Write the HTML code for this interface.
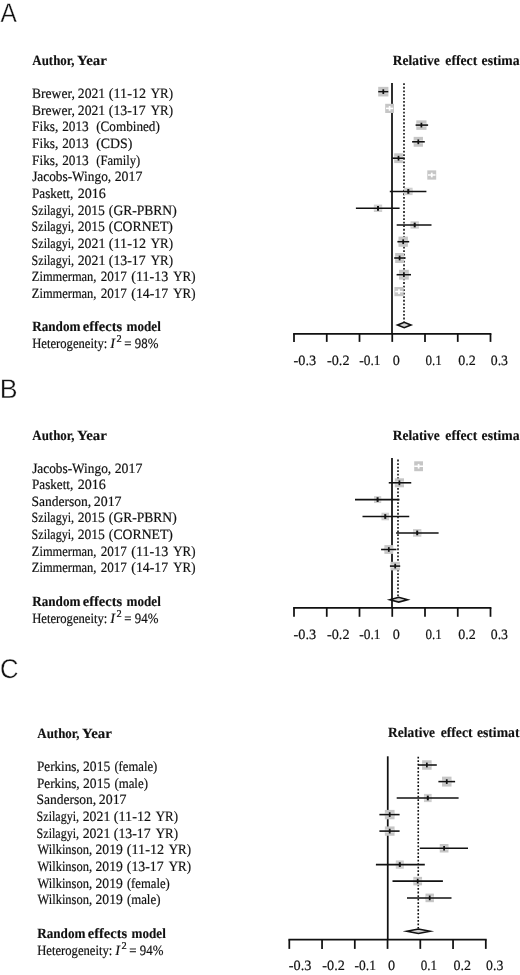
<!DOCTYPE html>
<html><head><meta charset="utf-8"><title>Forest plots</title>
<style>
html,body{margin:0;padding:0;background:#fff;}
svg{display:block;text-rendering:geometricPrecision;}
.t{font-family:"Liberation Serif",serif;font-size:14.2px;fill:#111;stroke:#111;stroke-width:0.2px;}
.b{font-family:"Liberation Serif",serif;font-size:14.2px;font-weight:bold;fill:#111;stroke:#111;stroke-width:0.15px;}
.L{font-family:"Liberation Sans",sans-serif;font-size:27.0px;fill:#111;}
</style></head><body>
<svg width="520" height="975" viewBox="0 0 520 975">
<rect width="520" height="975" fill="#fff"/>
<line x1="392" y1="83" x2="392" y2="333.8" stroke="#111" stroke-width="1.75"/>
<line x1="404" y1="83.3" x2="404" y2="321.80" stroke="#111" stroke-width="1.6" stroke-dasharray="1.8 1.75"/>
<line x1="293.12" y1="333.8" x2="491.38" y2="333.8" stroke="#111" stroke-width="1.75"/>
<line x1="294.00" y1="333.8" x2="294.00" y2="341.90" stroke="#111" stroke-width="1.75"/>
<line x1="326.75" y1="333.8" x2="326.75" y2="341.90" stroke="#111" stroke-width="1.75"/>
<line x1="359.50" y1="333.8" x2="359.50" y2="341.90" stroke="#111" stroke-width="1.75"/>
<line x1="392.25" y1="333.8" x2="392.25" y2="341.90" stroke="#111" stroke-width="1.75"/>
<line x1="425.00" y1="333.8" x2="425.00" y2="341.90" stroke="#111" stroke-width="1.75"/>
<line x1="457.75" y1="333.8" x2="457.75" y2="341.90" stroke="#111" stroke-width="1.75"/>
<line x1="490.50" y1="333.8" x2="490.50" y2="341.90" stroke="#111" stroke-width="1.75"/>
<rect x="378.20" y="86.85" width="10.2" height="9.6" fill="#c6c6c6"/>
<line x1="378.25" y1="91.65" x2="388.30" y2="91.65" stroke="#dedede" stroke-width="3.6"/>
<line x1="378.25" y1="91.65" x2="388.30" y2="91.65" stroke="#111" stroke-width="1.55"/>
<line x1="383.30" y1="89.30" x2="383.30" y2="94.00" stroke="#111" stroke-width="1.75"/>
<rect x="385.20" y="103.80" width="8.8" height="9.2" fill="#c6c6c6"/>
<line x1="386.00" y1="108.40" x2="393.20" y2="108.40" stroke="#fff" stroke-width="1.55"/>
<line x1="389.60" y1="106.05" x2="389.60" y2="110.75" stroke="#fff" stroke-width="1.75"/>
<rect x="416.30" y="120.35" width="10.2" height="9.5" fill="#c6c6c6"/>
<line x1="416.30" y1="125.10" x2="426.50" y2="125.10" stroke="#dedede" stroke-width="3.6"/>
<line x1="415.60" y1="125.10" x2="428.10" y2="125.10" stroke="#111" stroke-width="1.55"/>
<line x1="421.40" y1="122.75" x2="421.40" y2="127.45" stroke="#111" stroke-width="1.75"/>
<rect x="413.65" y="136.85" width="9.3" height="9.9" fill="#c6c6c6"/>
<line x1="413.65" y1="141.80" x2="422.95" y2="141.80" stroke="#dedede" stroke-width="3.6"/>
<line x1="412.10" y1="141.80" x2="424.80" y2="141.80" stroke="#111" stroke-width="1.55"/>
<line x1="418.30" y1="139.45" x2="418.30" y2="144.15" stroke="#111" stroke-width="1.75"/>
<rect x="394.20" y="153.30" width="8.6" height="9.8" fill="#c6c6c6"/>
<line x1="394.20" y1="158.20" x2="402.80" y2="158.20" stroke="#dedede" stroke-width="3.6"/>
<line x1="392.30" y1="158.20" x2="404.60" y2="158.20" stroke="#111" stroke-width="1.55"/>
<line x1="398.50" y1="155.85" x2="398.50" y2="160.55" stroke="#111" stroke-width="1.75"/>
<rect x="427.30" y="170.35" width="8.9" height="9.3" fill="#c6c6c6"/>
<line x1="428.00" y1="175.00" x2="435.50" y2="175.00" stroke="#fff" stroke-width="1.55"/>
<line x1="431.75" y1="172.65" x2="431.75" y2="177.35" stroke="#fff" stroke-width="1.75"/>
<rect x="404.00" y="187.70" width="8.6" height="7.4" fill="#cfcfcf"/>
<line x1="404.00" y1="191.40" x2="412.60" y2="191.40" stroke="#dedede" stroke-width="3.6"/>
<line x1="389.80" y1="191.40" x2="426.40" y2="191.40" stroke="#111" stroke-width="1.55"/>
<line x1="408.30" y1="189.05" x2="408.30" y2="193.75" stroke="#111" stroke-width="2.0"/>
<rect x="373.85" y="204.60" width="8.3" height="7.4" fill="#cfcfcf"/>
<line x1="373.85" y1="208.30" x2="382.15" y2="208.30" stroke="#dedede" stroke-width="3.6"/>
<line x1="355.90" y1="208.30" x2="399.60" y2="208.30" stroke="#111" stroke-width="1.55"/>
<line x1="378.00" y1="205.95" x2="378.00" y2="210.65" stroke="#111" stroke-width="2.0"/>
<rect x="410.50" y="221.30" width="8.4" height="7.4" fill="#cfcfcf"/>
<line x1="410.50" y1="225.00" x2="418.90" y2="225.00" stroke="#dedede" stroke-width="3.6"/>
<line x1="396.70" y1="225.00" x2="431.50" y2="225.00" stroke="#111" stroke-width="1.55"/>
<line x1="414.70" y1="222.65" x2="414.70" y2="227.35" stroke="#111" stroke-width="2.0"/>
<rect x="398.50" y="236.60" width="9.4" height="10.2" fill="#c6c6c6"/>
<line x1="398.50" y1="241.70" x2="407.90" y2="241.70" stroke="#dedede" stroke-width="3.6"/>
<line x1="397.40" y1="241.70" x2="409.20" y2="241.70" stroke="#111" stroke-width="1.55"/>
<line x1="403.20" y1="239.35" x2="403.20" y2="244.05" stroke="#111" stroke-width="1.75"/>
<rect x="395.15" y="253.00" width="8.9" height="10.0" fill="#c6c6c6"/>
<line x1="395.15" y1="258.00" x2="404.05" y2="258.00" stroke="#dedede" stroke-width="3.6"/>
<line x1="394.20" y1="258.00" x2="405.60" y2="258.00" stroke="#111" stroke-width="1.55"/>
<line x1="399.60" y1="255.65" x2="399.60" y2="260.35" stroke="#111" stroke-width="1.75"/>
<rect x="399.00" y="269.80" width="9.8" height="9.8" fill="#c6c6c6"/>
<line x1="399.00" y1="274.70" x2="408.80" y2="274.70" stroke="#dedede" stroke-width="3.6"/>
<line x1="396.60" y1="274.70" x2="411.00" y2="274.70" stroke="#111" stroke-width="1.55"/>
<line x1="403.90" y1="272.35" x2="403.90" y2="277.05" stroke="#111" stroke-width="1.75"/>
<rect x="394.40" y="287.00" width="9.2" height="9.2" fill="#c6c6c6"/>
<line x1="395.20" y1="291.60" x2="402.80" y2="291.60" stroke="#fff" stroke-width="1.55"/>
<line x1="399.00" y1="289.25" x2="399.00" y2="293.95" stroke="#fff" stroke-width="1.75"/>
<polygon points="397.54,325.0 404.25,322.36 410.96,325.0 404.25,327.64" fill="#d2d2d2" stroke="#111" stroke-width="1.6" stroke-linejoin="miter" stroke-miterlimit="12"/>
<line x1="392" y1="458" x2="392" y2="607.8" stroke="#111" stroke-width="1.75"/>
<line x1="398" y1="459.6" x2="398" y2="596.80" stroke="#111" stroke-width="1.6" stroke-dasharray="1.8 1.75"/>
<line x1="293.12" y1="607.8" x2="491.38" y2="607.8" stroke="#111" stroke-width="1.75"/>
<line x1="294.00" y1="607.8" x2="294.00" y2="616.80" stroke="#111" stroke-width="1.75"/>
<line x1="326.75" y1="607.8" x2="326.75" y2="616.80" stroke="#111" stroke-width="1.75"/>
<line x1="359.50" y1="607.8" x2="359.50" y2="616.80" stroke="#111" stroke-width="1.75"/>
<line x1="392.25" y1="607.8" x2="392.25" y2="616.80" stroke="#111" stroke-width="1.75"/>
<line x1="425.00" y1="607.8" x2="425.00" y2="616.80" stroke="#111" stroke-width="1.75"/>
<line x1="457.75" y1="607.8" x2="457.75" y2="616.80" stroke="#111" stroke-width="1.75"/>
<line x1="490.50" y1="607.8" x2="490.50" y2="616.80" stroke="#111" stroke-width="1.75"/>
<rect x="414.20" y="461.30" width="8.8" height="9.9" fill="#c6c6c6"/>
<line x1="414.20" y1="466.25" x2="423.00" y2="466.25" stroke="#fff" stroke-width="1.55"/>
<line x1="418.60" y1="463.90" x2="418.60" y2="468.60" stroke="#fff" stroke-width="1.75"/>
<rect x="394.80" y="478.30" width="9.2" height="9.0" fill="#c6c6c6"/>
<line x1="394.80" y1="482.80" x2="404.00" y2="482.80" stroke="#dedede" stroke-width="3.6"/>
<line x1="388.75" y1="482.80" x2="411.25" y2="482.80" stroke="#111" stroke-width="1.55"/>
<line x1="399.40" y1="480.45" x2="399.40" y2="485.15" stroke="#111" stroke-width="1.75"/>
<rect x="374.00" y="496.15" width="7.2" height="6.9" fill="#cfcfcf"/>
<line x1="374.00" y1="499.60" x2="381.20" y2="499.60" stroke="#dedede" stroke-width="3.6"/>
<line x1="355.00" y1="499.60" x2="399.50" y2="499.60" stroke="#111" stroke-width="1.55"/>
<line x1="377.60" y1="497.25" x2="377.60" y2="501.95" stroke="#111" stroke-width="2.0"/>
<rect x="381.50" y="512.70" width="7.5" height="7.6" fill="#cfcfcf"/>
<line x1="381.50" y1="516.50" x2="389.00" y2="516.50" stroke="#dedede" stroke-width="3.6"/>
<line x1="362.50" y1="516.50" x2="409.25" y2="516.50" stroke="#111" stroke-width="1.55"/>
<line x1="385.25" y1="514.15" x2="385.25" y2="518.85" stroke="#111" stroke-width="2.0"/>
<rect x="413.05" y="529.05" width="8.3" height="7.7" fill="#cfcfcf"/>
<line x1="413.05" y1="532.90" x2="421.35" y2="532.90" stroke="#dedede" stroke-width="3.6"/>
<line x1="396.10" y1="532.90" x2="438.60" y2="532.90" stroke="#111" stroke-width="1.55"/>
<line x1="417.20" y1="530.55" x2="417.20" y2="535.25" stroke="#111" stroke-width="2.0"/>
<rect x="384.40" y="545.10" width="8.8" height="8.8" fill="#c6c6c6"/>
<line x1="384.40" y1="549.50" x2="393.20" y2="549.50" stroke="#dedede" stroke-width="3.6"/>
<line x1="381.10" y1="549.50" x2="396.40" y2="549.50" stroke="#111" stroke-width="1.55"/>
<line x1="388.80" y1="547.15" x2="388.80" y2="551.85" stroke="#111" stroke-width="1.75"/>
<rect x="390.50" y="561.80" width="9.4" height="8.6" fill="#c6c6c6"/>
<line x1="390.50" y1="566.10" x2="399.90" y2="566.10" stroke="#dedede" stroke-width="3.6"/>
<line x1="389.90" y1="566.10" x2="400.20" y2="566.10" stroke="#111" stroke-width="1.55"/>
<line x1="395.20" y1="563.75" x2="395.20" y2="568.45" stroke="#111" stroke-width="1.75"/>
<polygon points="389.88,599.7 398.7,597.33 407.52,599.7 398.7,602.07" fill="#d2d2d2" stroke="#111" stroke-width="1.6" stroke-linejoin="miter" stroke-miterlimit="12"/>
<line x1="387.75" y1="756.3" x2="387.75" y2="939.6" stroke="#111" stroke-width="1.75"/>
<line x1="418.25" y1="756.7" x2="418.25" y2="928.45" stroke="#111" stroke-width="1.6" stroke-dasharray="1.8 1.75"/>
<line x1="288.43" y1="939.6" x2="486.68" y2="939.6" stroke="#111" stroke-width="1.75"/>
<line x1="289.30" y1="939.6" x2="289.30" y2="948.90" stroke="#111" stroke-width="1.75"/>
<line x1="322.05" y1="939.6" x2="322.05" y2="948.90" stroke="#111" stroke-width="1.75"/>
<line x1="354.80" y1="939.6" x2="354.80" y2="948.90" stroke="#111" stroke-width="1.75"/>
<line x1="387.55" y1="939.6" x2="387.55" y2="948.90" stroke="#111" stroke-width="1.75"/>
<line x1="420.30" y1="939.6" x2="420.30" y2="948.90" stroke="#111" stroke-width="1.75"/>
<line x1="453.05" y1="939.6" x2="453.05" y2="948.90" stroke="#111" stroke-width="1.75"/>
<line x1="485.80" y1="939.6" x2="485.80" y2="948.90" stroke="#111" stroke-width="1.75"/>
<rect x="422.10" y="760.25" width="9.5" height="9.5" fill="#c6c6c6"/>
<line x1="422.10" y1="765.00" x2="431.60" y2="765.00" stroke="#dedede" stroke-width="3.6"/>
<line x1="418.20" y1="765.00" x2="436.80" y2="765.00" stroke="#111" stroke-width="1.55"/>
<line x1="426.85" y1="762.65" x2="426.85" y2="767.35" stroke="#111" stroke-width="1.75"/>
<rect x="442.00" y="776.65" width="9.5" height="9.9" fill="#c6c6c6"/>
<line x1="442.00" y1="781.60" x2="451.50" y2="781.60" stroke="#dedede" stroke-width="3.6"/>
<line x1="438.40" y1="781.60" x2="455.10" y2="781.60" stroke="#111" stroke-width="1.55"/>
<line x1="446.75" y1="779.25" x2="446.75" y2="783.95" stroke="#111" stroke-width="1.75"/>
<rect x="423.95" y="793.90" width="7.7" height="8.2" fill="#cfcfcf"/>
<line x1="423.95" y1="798.00" x2="431.65" y2="798.00" stroke="#dedede" stroke-width="3.6"/>
<line x1="396.70" y1="798.00" x2="458.60" y2="798.00" stroke="#111" stroke-width="1.55"/>
<line x1="427.80" y1="795.65" x2="427.80" y2="800.35" stroke="#111" stroke-width="2.0"/>
<rect x="384.85" y="809.90" width="9.7" height="9.4" fill="#c6c6c6"/>
<line x1="384.85" y1="814.60" x2="394.55" y2="814.60" stroke="#dedede" stroke-width="3.6"/>
<line x1="379.40" y1="814.60" x2="399.60" y2="814.60" stroke="#111" stroke-width="1.55"/>
<line x1="389.70" y1="812.25" x2="389.70" y2="816.95" stroke="#111" stroke-width="1.75"/>
<rect x="384.85" y="826.45" width="9.7" height="9.3" fill="#c6c6c6"/>
<line x1="384.85" y1="831.10" x2="394.55" y2="831.10" stroke="#dedede" stroke-width="3.6"/>
<line x1="379.40" y1="831.10" x2="399.60" y2="831.10" stroke="#111" stroke-width="1.55"/>
<line x1="389.70" y1="828.75" x2="389.70" y2="833.45" stroke="#111" stroke-width="1.75"/>
<rect x="439.75" y="844.00" width="8.7" height="8.5" fill="#c6c6c6"/>
<line x1="439.75" y1="848.25" x2="448.45" y2="848.25" stroke="#dedede" stroke-width="3.6"/>
<line x1="419.80" y1="848.25" x2="468.00" y2="848.25" stroke="#111" stroke-width="1.55"/>
<line x1="444.10" y1="845.90" x2="444.10" y2="850.60" stroke="#111" stroke-width="1.75"/>
<rect x="395.80" y="860.45" width="8.0" height="8.3" fill="#cfcfcf"/>
<line x1="395.80" y1="864.60" x2="403.80" y2="864.60" stroke="#dedede" stroke-width="3.6"/>
<line x1="375.90" y1="864.60" x2="424.80" y2="864.60" stroke="#111" stroke-width="1.55"/>
<line x1="399.80" y1="862.25" x2="399.80" y2="866.95" stroke="#111" stroke-width="2.0"/>
<rect x="413.35" y="876.85" width="8.7" height="8.5" fill="#c6c6c6"/>
<line x1="413.35" y1="881.10" x2="422.05" y2="881.10" stroke="#dedede" stroke-width="3.6"/>
<line x1="392.50" y1="881.10" x2="442.90" y2="881.10" stroke="#111" stroke-width="1.55"/>
<line x1="417.70" y1="878.75" x2="417.70" y2="883.45" stroke="#111" stroke-width="1.75"/>
<rect x="425.50" y="893.60" width="8.4" height="8.6" fill="#c6c6c6"/>
<line x1="425.50" y1="897.90" x2="433.90" y2="897.90" stroke="#dedede" stroke-width="3.6"/>
<line x1="407.00" y1="897.90" x2="451.50" y2="897.90" stroke="#111" stroke-width="1.55"/>
<line x1="429.70" y1="895.55" x2="429.70" y2="900.25" stroke="#111" stroke-width="1.75"/>
<polygon points="406.82,931.2 418.4,928.96 429.98,931.2 418.4,933.44" fill="#d2d2d2" stroke="#111" stroke-width="1.6" stroke-linejoin="miter" stroke-miterlimit="12"/>
<text class="b" transform="translate(32.34 64.90) scale(0.9093 1)">Author,</text>
<text class="b" transform="translate(77.08 64.90) scale(1.0500 1)">Year</text>
<text class="b" transform="translate(392.80 64.90) scale(0.9465 1)">Relative</text>
<text class="b" transform="translate(445.34 64.90) scale(0.9640 1)">effect</text>
<text class="b" transform="translate(481.59 64.90) scale(0.9658 1)">estimate</text>
<text class="t" transform="translate(32.06 97.90) scale(0.9549 1)">Brewer,</text>
<text class="t" transform="translate(77.85 97.90) scale(0.9637 1)">2021</text>
<text class="t" transform="translate(108.83 97.90) scale(0.9977 1)">(11-12</text>
<text class="t" transform="translate(150.67 97.90) scale(0.9113 1)">YR)</text>
<text class="t" transform="translate(32.06 114.58) scale(0.9549 1)">Brewer,</text>
<text class="t" transform="translate(77.85 114.58) scale(0.9637 1)">2021</text>
<text class="t" transform="translate(108.85 114.58) scale(0.9720 1)">(13-17</text>
<text class="t" transform="translate(150.67 114.58) scale(0.9113 1)">YR)</text>
<text class="t" transform="translate(32.07 131.25) scale(0.9399 1)">Fiks,</text>
<text class="t" transform="translate(62.17 131.25) scale(0.9365 1)">2013</text>
<text class="t" transform="translate(96.17 131.25) scale(0.9282 1)">(Combined)</text>
<text class="t" transform="translate(32.07 147.93) scale(0.9399 1)">Fiks,</text>
<text class="t" transform="translate(62.17 147.93) scale(0.9365 1)">2013</text>
<text class="t" transform="translate(96.14 147.93) scale(0.9777 1)">(CDS)</text>
<text class="t" transform="translate(32.07 164.60) scale(0.9399 1)">Fiks,</text>
<text class="t" transform="translate(62.17 164.60) scale(0.9365 1)">2013</text>
<text class="t" transform="translate(96.20 164.60) scale(0.8863 1)">(Family)</text>
<text class="t" transform="translate(32.13 181.28) scale(0.9389 1)">Jacobs-Wingo,</text>
<text class="t" transform="translate(114.65 181.28) scale(0.9754 1)">2017</text>
<text class="t" transform="translate(32.07 197.95) scale(0.9248 1)">Paskett,</text>
<text class="t" transform="translate(77.64 197.95) scale(0.9936 1)">2016</text>
<text class="t" transform="translate(31.62 214.62) scale(0.8466 1)">Szilagyi,</text>
<text class="t" transform="translate(77.65 214.62) scale(0.9621 1)">2015</text>
<text class="t" transform="translate(108.86 214.62) scale(0.9559 1)">(GR-PBRN)</text>
<text class="t" transform="translate(31.62 231.30) scale(0.8466 1)">Szilagyi,</text>
<text class="t" transform="translate(77.65 231.30) scale(0.9621 1)">2015</text>
<text class="t" transform="translate(108.85 231.30) scale(0.9681 1)">(CORNET)</text>
<text class="t" transform="translate(31.62 247.98) scale(0.8466 1)">Szilagyi,</text>
<text class="t" transform="translate(77.65 247.98) scale(0.9748 1)">2021</text>
<text class="t" transform="translate(108.83 247.98) scale(0.9977 1)">(11-12</text>
<text class="t" transform="translate(150.67 247.98) scale(0.9113 1)">YR)</text>
<text class="t" transform="translate(31.62 264.65) scale(0.8466 1)">Szilagyi,</text>
<text class="t" transform="translate(77.65 264.65) scale(0.9748 1)">2021</text>
<text class="t" transform="translate(108.85 264.65) scale(0.9720 1)">(13-17</text>
<text class="t" transform="translate(150.67 264.65) scale(0.9113 1)">YR)</text>
<text class="t" transform="translate(31.84 281.33) scale(0.8762 1)">Zimmerman,</text>
<text class="t" transform="translate(100.67 281.33) scale(0.9244 1)">2017</text>
<text class="t" transform="translate(131.34 281.33) scale(0.9899 1)">(11-13</text>
<text class="t" transform="translate(173.17 281.33) scale(0.9113 1)">YR)</text>
<text class="t" transform="translate(31.84 298.00) scale(0.8762 1)">Zimmerman,</text>
<text class="t" transform="translate(100.67 298.00) scale(0.9244 1)">2017</text>
<text class="t" transform="translate(131.35 298.00) scale(0.9720 1)">(14-17</text>
<text class="t" transform="translate(173.17 298.00) scale(0.9113 1)">YR)</text>
<text class="b" transform="translate(32.20 330.50) scale(0.9268 1)">Random</text>
<text class="b" transform="translate(82.76 330.50) scale(1.0224 1)">effects</text>
<text class="b" transform="translate(126.57 330.50) scale(0.9237 1)">model</text>
<text class="t" transform="translate(32.18 348.25) scale(0.8913 1)">Heterogeneity:</text>
<text class="t" font-style="italic" transform="translate(110.37 348.25) scale(1.0000 1)">I</text>
<text class="t" style="font-size:10.4px" transform="translate(116.43 342.15) scale(1.0000 1)">2</text>
<text class="t" transform="translate(124.32 348.25) scale(0.9074 1)">= 98%</text>
<text class="t" transform="translate(293.50 364.70) scale(1.0054 1)">-0.3</text>
<text class="t" transform="translate(327.00 364.70) scale(1.0023 1)">-0.2</text>
<text class="t" transform="translate(359.28 364.70) scale(0.9489 1)">-0.1</text>
<text class="t" transform="translate(392.75 364.70) scale(1.0000 1)">0</text>
<text class="t" transform="translate(425.44 364.70) scale(0.9207 1)">0.1</text>
<text class="t" transform="translate(458.26 364.70) scale(0.9896 1)">0.2</text>
<text class="t" transform="translate(490.77 364.70) scale(0.9698 1)">0.3</text>
<text class="b" transform="translate(32.34 439.50) scale(0.9093 1)">Author,</text>
<text class="b" transform="translate(77.08 439.50) scale(1.0500 1)">Year</text>
<text class="b" transform="translate(392.80 439.50) scale(0.9465 1)">Relative</text>
<text class="b" transform="translate(445.34 439.50) scale(0.9640 1)">effect</text>
<text class="b" transform="translate(481.59 439.50) scale(0.9658 1)">estimate</text>
<text class="t" transform="translate(32.13 472.50) scale(0.9389 1)">Jacobs-Wingo,</text>
<text class="t" transform="translate(114.65 472.50) scale(0.9754 1)">2017</text>
<text class="t" transform="translate(32.07 489.16) scale(0.9248 1)">Paskett,</text>
<text class="t" transform="translate(77.64 489.16) scale(0.9936 1)">2016</text>
<text class="t" transform="translate(31.52 505.82) scale(0.9519 1)">Sanderson,</text>
<text class="t" transform="translate(93.74 505.82) scale(0.9790 1)">2017</text>
<text class="t" transform="translate(31.62 522.48) scale(0.8466 1)">Szilagyi,</text>
<text class="t" transform="translate(77.65 522.48) scale(0.9621 1)">2015</text>
<text class="t" transform="translate(108.86 522.48) scale(0.9559 1)">(GR-PBRN)</text>
<text class="t" transform="translate(31.62 539.14) scale(0.8466 1)">Szilagyi,</text>
<text class="t" transform="translate(77.65 539.14) scale(0.9621 1)">2015</text>
<text class="t" transform="translate(108.85 539.14) scale(0.9681 1)">(CORNET)</text>
<text class="t" transform="translate(31.84 555.80) scale(0.8762 1)">Zimmerman,</text>
<text class="t" transform="translate(100.67 555.80) scale(0.9244 1)">2017</text>
<text class="t" transform="translate(131.34 555.80) scale(0.9899 1)">(11-13</text>
<text class="t" transform="translate(173.17 555.80) scale(0.9113 1)">YR)</text>
<text class="t" transform="translate(31.84 572.46) scale(0.8762 1)">Zimmerman,</text>
<text class="t" transform="translate(100.67 572.46) scale(0.9244 1)">2017</text>
<text class="t" transform="translate(131.35 572.46) scale(0.9720 1)">(14-17</text>
<text class="t" transform="translate(173.17 572.46) scale(0.9113 1)">YR)</text>
<text class="b" transform="translate(32.20 605.50) scale(0.9268 1)">Random</text>
<text class="b" transform="translate(82.76 605.50) scale(1.0224 1)">effects</text>
<text class="b" transform="translate(126.57 605.50) scale(0.9237 1)">model</text>
<text class="t" transform="translate(32.18 623.00) scale(0.8913 1)">Heterogeneity:</text>
<text class="t" font-style="italic" transform="translate(110.37 623.00) scale(1.0000 1)">I</text>
<text class="t" style="font-size:10.4px" transform="translate(116.43 616.90) scale(1.0000 1)">2</text>
<text class="t" transform="translate(124.32 623.00) scale(0.9074 1)">= 94%</text>
<text class="t" transform="translate(293.50 639.00) scale(1.0054 1)">-0.3</text>
<text class="t" transform="translate(327.00 639.00) scale(1.0023 1)">-0.2</text>
<text class="t" transform="translate(359.28 639.00) scale(0.9489 1)">-0.1</text>
<text class="t" transform="translate(392.75 639.00) scale(1.0000 1)">0</text>
<text class="t" transform="translate(425.44 639.00) scale(0.9207 1)">0.1</text>
<text class="t" transform="translate(458.26 639.00) scale(0.9896 1)">0.2</text>
<text class="t" transform="translate(490.77 639.00) scale(0.9698 1)">0.3</text>
<text class="b" transform="translate(37.34 737.50) scale(0.9093 1)">Author,</text>
<text class="b" transform="translate(82.08 737.50) scale(1.0500 1)">Year</text>
<text class="b" transform="translate(388.10 737.40) scale(0.9465 1)">Relative</text>
<text class="b" transform="translate(440.64 737.40) scale(0.9640 1)">effect</text>
<text class="b" transform="translate(476.89 737.40) scale(0.9658 1)">estimate</text>
<text class="t" transform="translate(37.07 771.15) scale(0.9234 1)">Perkins,</text>
<text class="t" transform="translate(83.06 771.15) scale(0.9585 1)">2015</text>
<text class="t" transform="translate(114.39 771.15) scale(0.8933 1)">(female)</text>
<text class="t" transform="translate(37.07 787.78) scale(0.9234 1)">Perkins,</text>
<text class="t" transform="translate(83.06 787.78) scale(0.9585 1)">2015</text>
<text class="t" transform="translate(114.39 787.78) scale(0.9059 1)">(male)</text>
<text class="t" transform="translate(36.52 804.41) scale(0.9519 1)">Sanderson,</text>
<text class="t" transform="translate(98.74 804.41) scale(0.9790 1)">2017</text>
<text class="t" transform="translate(36.62 821.04) scale(0.8466 1)">Szilagyi,</text>
<text class="t" transform="translate(82.65 821.04) scale(0.9748 1)">2021</text>
<text class="t" transform="translate(113.83 821.04) scale(0.9977 1)">(11-12</text>
<text class="t" transform="translate(155.67 821.04) scale(0.9113 1)">YR)</text>
<text class="t" transform="translate(36.62 837.67) scale(0.8466 1)">Szilagyi,</text>
<text class="t" transform="translate(82.65 837.67) scale(0.9748 1)">2021</text>
<text class="t" transform="translate(113.85 837.67) scale(0.9720 1)">(13-17</text>
<text class="t" transform="translate(155.67 837.67) scale(0.9113 1)">YR)</text>
<text class="t" transform="translate(37.40 854.30) scale(0.8810 1)">Wilkinson,</text>
<text class="t" transform="translate(95.55 854.30) scale(0.9610 1)">2019</text>
<text class="t" transform="translate(126.83 854.30) scale(0.9977 1)">(11-12</text>
<text class="t" transform="translate(168.67 854.30) scale(0.9113 1)">YR)</text>
<text class="t" transform="translate(37.40 870.93) scale(0.8810 1)">Wilkinson,</text>
<text class="t" transform="translate(95.55 870.93) scale(0.9610 1)">2019</text>
<text class="t" transform="translate(126.85 870.93) scale(0.9720 1)">(13-17</text>
<text class="t" transform="translate(168.67 870.93) scale(0.9113 1)">YR)</text>
<text class="t" transform="translate(37.40 887.56) scale(0.8810 1)">Wilkinson,</text>
<text class="t" transform="translate(95.55 887.56) scale(0.9610 1)">2019</text>
<text class="t" transform="translate(126.89 887.56) scale(0.8933 1)">(female)</text>
<text class="t" transform="translate(37.40 904.19) scale(0.8810 1)">Wilkinson,</text>
<text class="t" transform="translate(95.55 904.19) scale(0.9610 1)">2019</text>
<text class="t" transform="translate(126.89 904.19) scale(0.9059 1)">(male)</text>
<text class="b" transform="translate(37.20 937.50) scale(0.9268 1)">Random</text>
<text class="b" transform="translate(87.76 937.50) scale(1.0224 1)">effects</text>
<text class="b" transform="translate(131.57 937.50) scale(0.9237 1)">model</text>
<text class="t" transform="translate(37.18 955.20) scale(0.8913 1)">Heterogeneity:</text>
<text class="t" font-style="italic" transform="translate(115.37 955.20) scale(1.0000 1)">I</text>
<text class="t" style="font-size:10.4px" transform="translate(121.43 949.10) scale(1.0000 1)">2</text>
<text class="t" transform="translate(129.32 955.20) scale(0.9074 1)">= 94%</text>
<text class="t" transform="translate(288.80 970.00) scale(1.0054 1)">-0.3</text>
<text class="t" transform="translate(322.30 970.00) scale(1.0023 1)">-0.2</text>
<text class="t" transform="translate(354.58 970.00) scale(0.9489 1)">-0.1</text>
<text class="t" transform="translate(388.05 970.00) scale(1.0000 1)">0</text>
<text class="t" transform="translate(420.74 970.00) scale(0.9207 1)">0.1</text>
<text class="t" transform="translate(453.56 970.00) scale(0.9896 1)">0.2</text>
<text class="t" transform="translate(486.07 970.00) scale(0.9698 1)">0.3</text>
<text class="L" stroke="#fff" stroke-width="0.35" transform="translate(0.60 21.57) scale(0.9066 0.9965)">A</text>
<text class="L" stroke="#fff" stroke-width="0.35" transform="translate(-0.24 397.80) scale(0.9900 0.9984)">B</text>
<text class="L" stroke="#fff" stroke-width="0.35" transform="translate(-0.08 677.73) scale(0.9507 1.0068)">C</text>
</svg>
</body></html>
